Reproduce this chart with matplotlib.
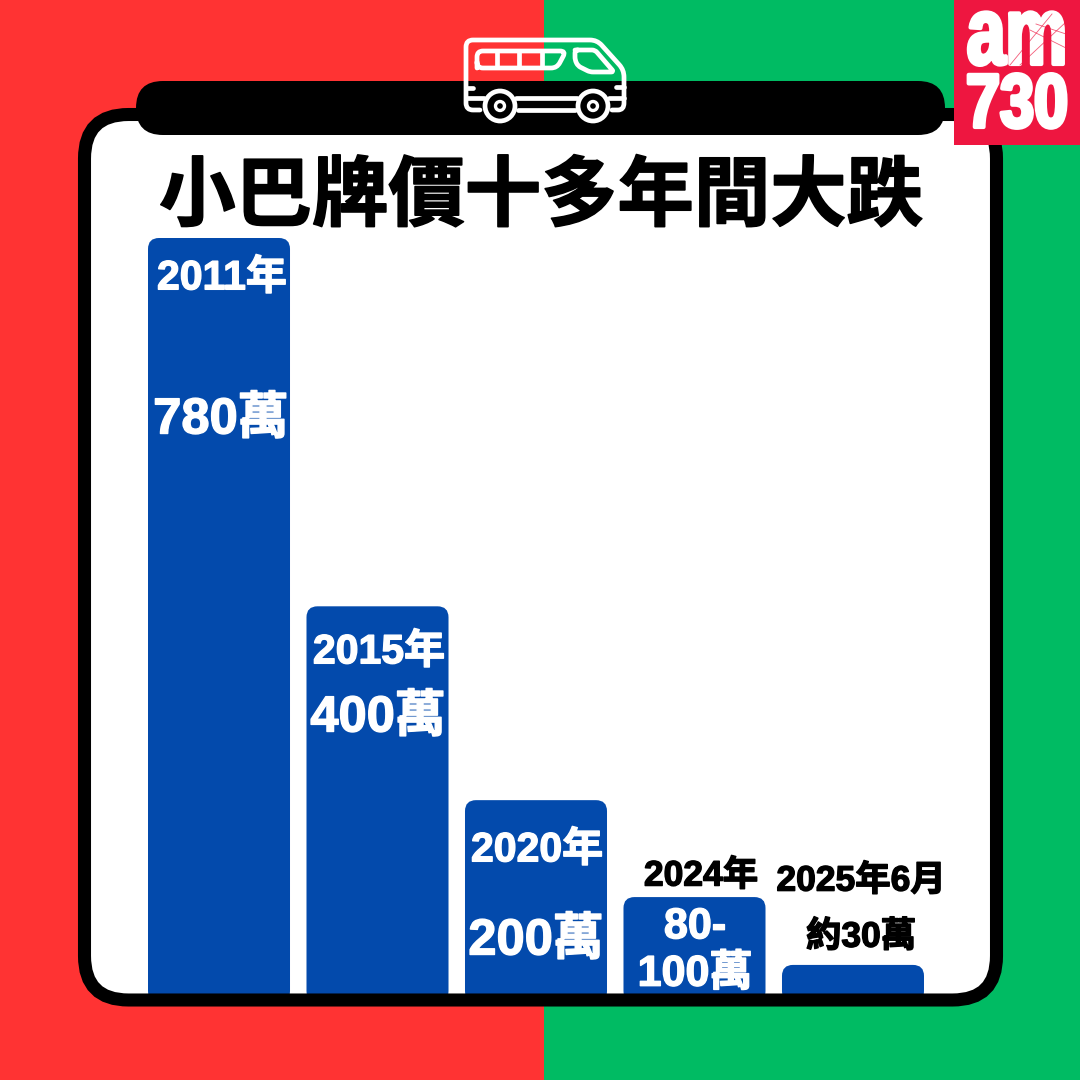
import matplotlib
matplotlib.use('Agg')
import matplotlib.pyplot as plt
import matplotlib.patheffects as pe
from matplotlib.patches import Rectangle, FancyBboxPatch, Circle, PathPatch
from matplotlib.path import Path
from matplotlib.transforms import Affine2D

plt.rcParams['font.family'] = ['Liberation Sans', 'Noto Sans CJK TC']

# data
years = ['2011年', '2015年', '2020年', '2024年', '2025年6月']
prices = [780, 400, 200, 100, 30]
price_labels = ['780萬', '400萬', '200萬', '80-\n100萬', '約30萬']
title = '小巴牌價十多年間大跌'

RED = '#FF3333'
GREEN = '#00BB63'
BLUE = '#034AAC'
LOGO_RED = '#EE1640'

fig = plt.figure(figsize=(10.8, 10.8), dpi=100)

# whole page axes in pixels, y going down like the picture
page = fig.add_axes([0, 0, 1, 1], zorder=1)
page.set_xlim(0, 1080)
page.set_ylim(1080, 0)
page.axis('off')


def rounded(ax, x0, y0, x1, y1, r, **kw):
    p = FancyBboxPatch((x0 + r, y0 + r), x1 - x0 - 2 * r, y1 - y0 - 2 * r,
                       boxstyle='round,pad=%f,rounding_size=%f' % (r, r), **kw)
    ax.add_patch(p)
    return p


# polyline with soft corners, used for the van outline
def soft_line(ax, pts, r=5, closed=False, lw=3.4, z=7):
    if closed:
        pts = pts + [pts[0], pts[1]]
    verts = [pts[0]]
    codes = [Path.MOVETO]
    for i in range(1, len(pts) - 1):
        px, py = pts[i - 1]
        x, y = pts[i]
        nx, ny = pts[i + 1]
        d1 = max(((x - px) ** 2 + (y - py) ** 2) ** 0.5, 0.01)
        d2 = max(((nx - x) ** 2 + (ny - y) ** 2) ** 0.5, 0.01)
        r1 = min(r, d1 / 2)
        r2 = min(r, d2 / 2)
        verts += [(x - (x - px) / d1 * r1, y - (y - py) / d1 * r1), (x, y),
                  (x + (nx - x) / d2 * r2, y + (ny - y) / d2 * r2)]
        codes += [Path.LINETO, Path.CURVE3, Path.CURVE3]
    if not closed:
        verts.append(pts[-1])
        codes.append(Path.LINETO)
    ax.add_patch(PathPatch(Path(verts, codes), fc='none', ec='white', lw=lw,
                           capstyle='round', joinstyle='round', zorder=z))


# stretches the logo letters upward from their baseline, they stay real text
class TallText(pe.AbstractPathEffect):
    def __init__(self, base_y, sy, stroke):
        super().__init__()
        self.base_y = 1080 - base_y
        self.sy = sy
        self.stroke = stroke

    def draw_path(self, renderer, gc, tpath, affine, rgbFace=None):
        a = affine + Affine2D().translate(0, -self.base_y).scale(1, self.sy).translate(0, self.base_y)
        gc0 = renderer.new_gc()
        gc0.copy_properties(gc)
        gc0.set_linewidth(self.stroke)
        gc0.set_foreground('white')
        renderer.draw_path(gc0, tpath, a, rgbFace)
        gc0.restore()


# background halves
page.add_patch(Rectangle((0, 0), 544, 1080, color=RED, lw=0, zorder=0))
page.add_patch(Rectangle((544, 0), 536, 1080, color=GREEN, lw=0, zorder=0))

# card
rounded(page, 84.5, 114.5, 996.5, 1000, 44, fc='white', ec='none', zorder=1)

# bars, real axes so the heights come from the values
bar_ax = fig.add_axes([148 / 1080, (1080 - 994) / 1080, 776 / 1080, 756 / 1080], zorder=2)
bar_ax.patch.set_alpha(0)
bar_ax.set_xlim(-0.448, 4.448)
bar_ax.set_ylim(0, 780)
bar_ax.axis('off')
bars = bar_ax.bar(range(len(prices)), prices, width=0.896, color='none')

# swap each bar for a round topped one, same extents in page pixels
for b in bars:
    (x0, y0), (x1, y1) = bar_ax.transData.transform([(b.get_x(), b.get_height()),
                                                     (b.get_x() + b.get_width(), 0)])
    rounded(page, x0, 1080 - y0, x1, 1080 - y1 + 8, 11, fc=BLUE, ec='none', zorder=3)

# card frame on top of the bar feet
rounded(page, 84.5, 114.5, 996.5, 1000, 44, fc='none', ec='black', lw=9.4, zorder=4)
rounded(page, 136, 81, 945, 135, 27, fc='black', ec='none', zorder=5)

page.text(541, 197, title, fontsize=55, fontweight='black', ha='center', va='center',
          color='black', zorder=6, family='Noto Sans CJK TC',
          path_effects=[pe.withStroke(linewidth=1.2, foreground='black')])

# labels
year_y = [278, 652, 850, 876, 881]
year_x = [222, 379, 537, 701, 861]
year_col = ['white', 'white', 'white', 'black', 'black']
price_y = [420, 718, 941, 951, 937]
price_x = [221, 378, 536, 695, 861]
price_size = [36.5, 36.5, 36.5, 31, 25.5]
price_col = ['white', 'white', 'white', 'white', 'black']
year_size = [29.5, 29.5, 29.5, 25.5, 25.5]

for i in range(len(years)):
    page.text(year_x[i], year_y[i], years[i], fontsize=year_size[i], fontweight='bold',
              ha='center', va='center', color=year_col[i], zorder=6,
              path_effects=[pe.withStroke(linewidth=1, foreground=year_col[i])])
    page.text(price_x[i], price_y[i], price_labels[i], fontsize=price_size[i], fontweight='bold',
              ha='center', va='center', color=price_col[i], linespacing=1.22, zorder=6,
              path_effects=[pe.withStroke(linewidth=1, foreground=price_col[i])])

# van icon
soft_line(page, [(480, 110), (466, 110), (466, 40), (597, 40), (624, 70), (624, 110), (612, 110)], r=7)
soft_line(page, [(466, 98), (484, 98)], r=0)
soft_line(page, [(516, 98), (577, 98)], r=0)
soft_line(page, [(609, 98), (624, 98)], r=0)
soft_line(page, [(518, 110), (575, 110)], r=0)
soft_line(page, [(467, 88), (473, 88)], r=0)
soft_line(page, [(616, 87), (624, 87)], r=0)
soft_line(page, [(477, 68), (477, 51), (566, 51), (557, 68)], r=6, closed=True)
for x in [497, 519, 542]:
    soft_line(page, [(x, 52), (x, 67)], r=0)
soft_line(page, [(575, 50), (595, 50), (614, 72), (590, 72), (578, 66), (575, 60)], r=3, closed=True)
for cx in [500, 593]:
    page.add_patch(Circle((cx, 106), 15, fc='black', ec='white', lw=3.4, zorder=8))
    page.add_patch(Circle((cx, 106), 4.5, fc='black', ec='white', lw=2.4, zorder=8))

# logo
page.add_patch(Rectangle((954, 0), 126, 145, color=LOGO_RED, lw=0, zorder=9))
page.text(1017, 64, 'am', fontsize=50, fontweight='bold', color='white',
          ha='center', va='baseline', zorder=10, path_effects=[TallText(64, 1.38, 3)])
page.text(1017, 127, '730', fontsize=44, fontweight='bold', color='white',
          ha='center', va='baseline', zorder=10, path_effects=[TallText(127, 1.24, 3)])
# thin web lines over the m
for seg in [((1010, 65), (1052, 14)), ((1020, 65), (1066, 22)), ((1030, 30), (1066, 48)), ((1036, 24), (1066, 34))]:
    page.plot([seg[0][0], seg[1][0]], [seg[0][1], seg[1][1]], color=LOGO_RED, lw=0.6, alpha=0.7, zorder=11)

fig.savefig('out.png', dpi=100)
